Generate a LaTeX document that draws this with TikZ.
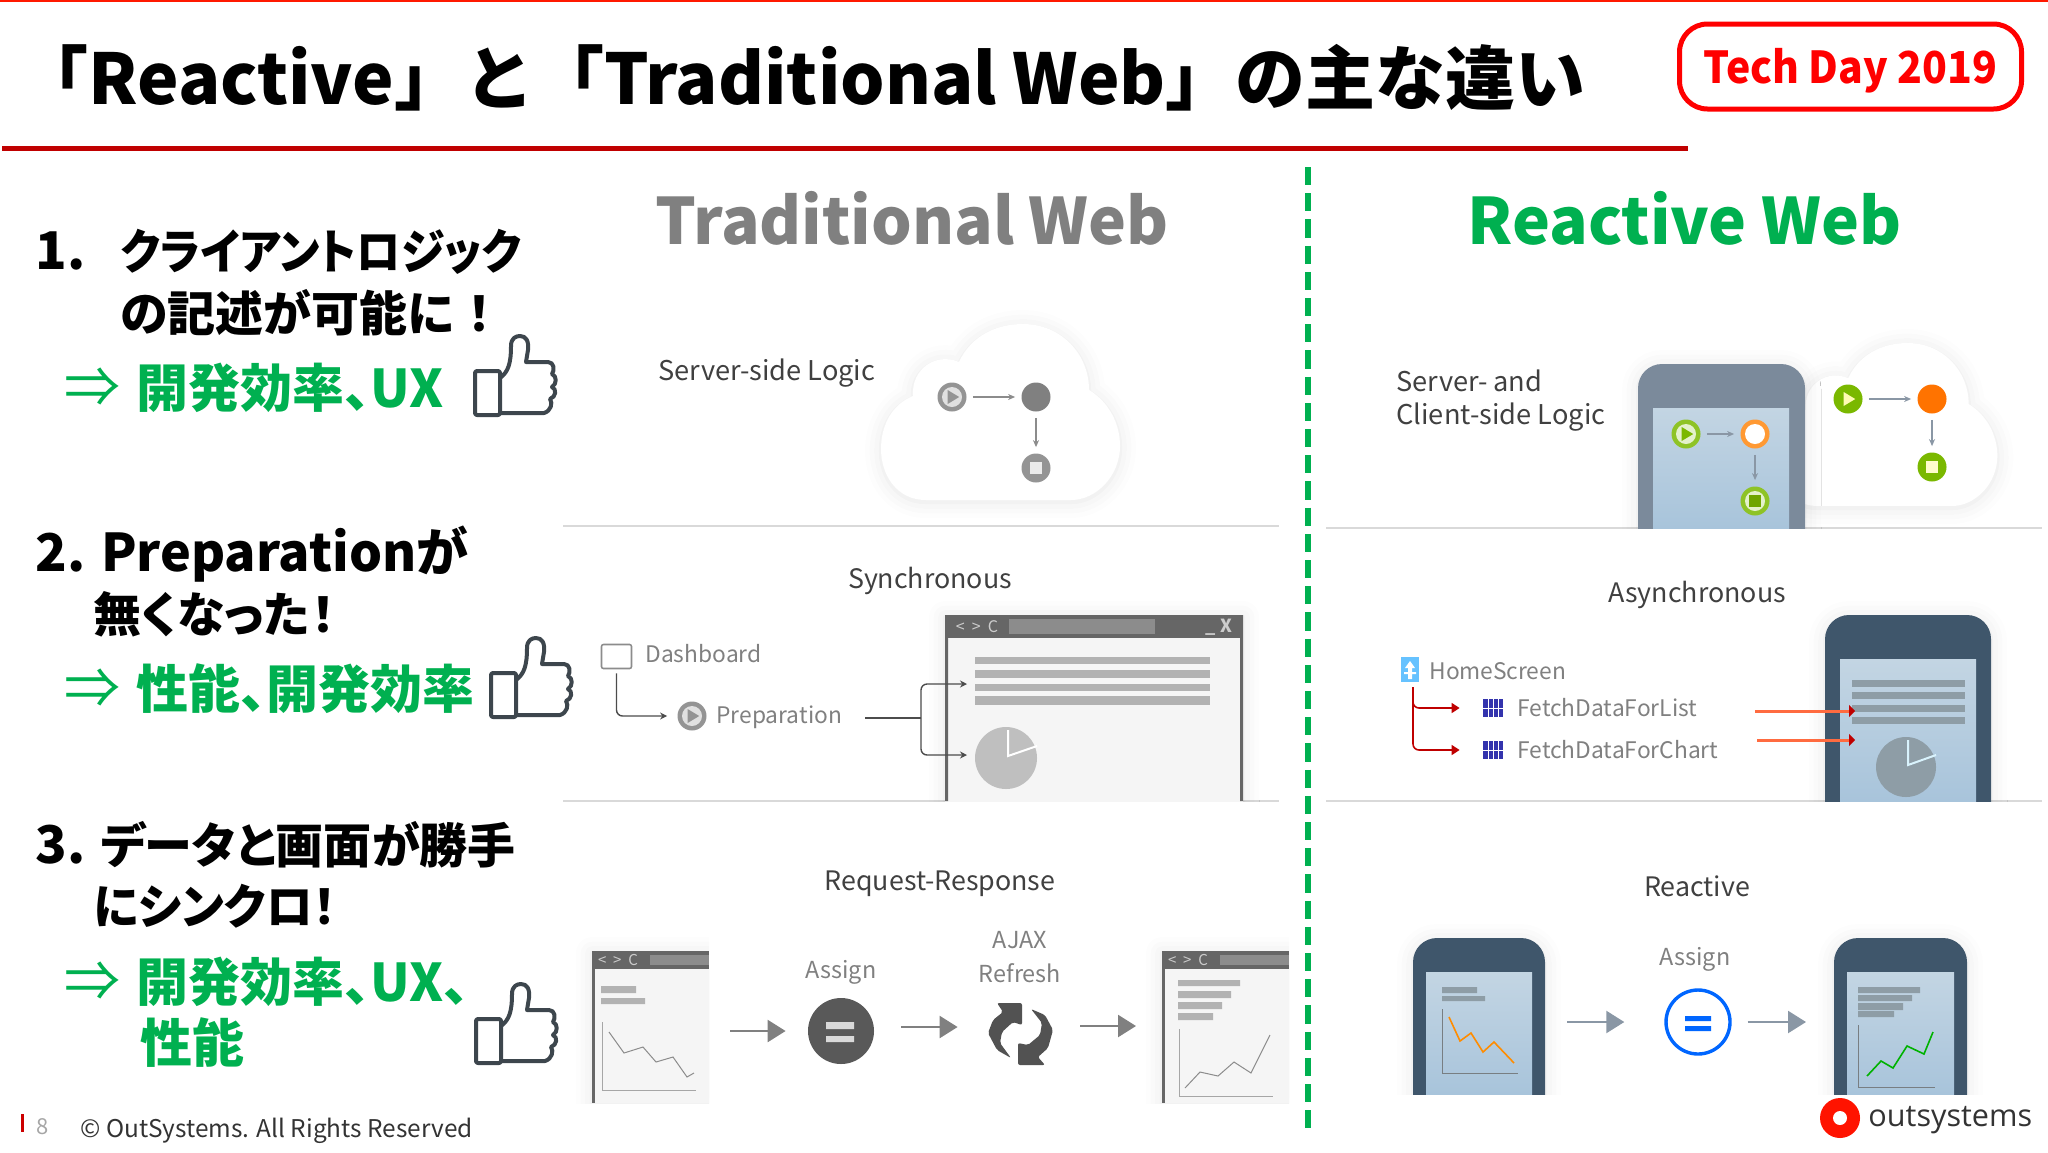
\documentclass[tikz,border=0pt]{standalone}
\usepackage{fontspec}
\setmainfont{Noto Sans CJK JP}
\newfontfamily\jpalt{Noto Sans CJK JP}[RawFeature=+palt]
\newfontfamily\logofont{Open Sans}
\usetikzlibrary{arrows.meta,shadows.blur}
\definecolor{osgreen}{HTML}{00B050}
\definecolor{osred}{HTML}{C00000}
\definecolor{phonedark}{HTML}{3F566B}
\definecolor{phonelight}{HTML}{7B8A9B}
\definecolor{leaf}{HTML}{7AB800}
\definecolor{thumbgray}{HTML}{3D464D}
\definecolor{arrowgray}{HTML}{8A97A5}
\definecolor{screentop}{HTML}{C3D5E3}
\definecolor{screenbottom}{HTML}{A8C4DB}
\definecolor{screenbar}{HTML}{8E9DA6}
\tikzset{
  every node/.style={inner sep=0pt},
  softshadow/.style={blur shadow={shadow xshift=0pt,shadow yshift=-1pt,shadow blur radius=8pt,shadow opacity=10}},
  titletext/.style={anchor=base west,font=\fontsize{35}{40}\selectfont\bfseries},
  headtext/.style={anchor=base west,font=\fontsize{32}{36}\selectfont\bfseries},
  steptext/.style={anchor=base west,font=\jpalt\fontsize{24}{28}\selectfont\bfseries},
  stepnum/.style={anchor=base west,font=\jpalt\fontsize{26}{28}\selectfont\bfseries},
  gaintext/.style={anchor=base west,text=osgreen,font=\jpalt\fontsize{26}{28}\selectfont\bfseries},
  gainarrow/.style={anchor=base west,text=osgreen,font=\fontsize{28}{30}\selectfont},
  labeltext/.style={anchor=base west,text=black!75,font=\fontsize{13.6}{16}\selectfont},
  graylabel/.style={anchor=base west,text=black!50,font=\fontsize{11.4}{14}\selectfont},
  rowlabel/.style={anchor=base,text=black!75,font=\fontsize{13.4}{16}\selectfont},
  iconlabel/.style={anchor=base,text=black!50,font=\fontsize{11.7}{15}\selectfont},
  startnode/.style n args={3}{circle,minimum size=14.5pt,fill=#1,path picture={
    \fill[#2] (path picture bounding box.center) circle (5pt);
    \fill[#3] ([shift={(-2.2pt,3.5pt)}]path picture bounding box.center) -- ++(5.8pt,-3.5pt) -- ++(-5.8pt,-3.5pt) -- cycle;}},
  stopnode/.style n args={3}{circle,minimum size=14.5pt,fill=#1,path picture={
    \fill[#2] (path picture bounding box.center) circle (5pt);
    \fill[#3] ([shift={(-3.2pt,-3.2pt)}]path picture bounding box.center) rectangle ++(6.4pt,6.4pt);}},
  flownode/.style={circle,minimum size=14.5pt,fill=#1},
  thinarrow/.style={-{Stealth[length=3.5pt,width=3pt]},draw=#1,line width=.7pt,shorten <=3pt,shorten >=3pt},
  thinarrow/.default=black!45,
  linkarrow/.style={-{Stealth[length=3.5pt,width=3.5pt]},draw=black!70,line width=.7pt,rounded corners=3pt},
  redarrow/.style={-{Triangle[length=4pt,width=5pt]},draw=red!75!black,line width=.8pt,rounded corners=3pt},
  farrow/.style={-{Triangle[length=3pt,width=6pt,color=red!75!black]},draw=red!55!orange!75,line width=1.5pt},
  bigarrow/.style={-{Triangle[length=9pt,width=11pt]},draw=#1,line width=1.2pt},
  griddata/.style={rectangle,minimum width=10pt,minimum height=9pt,fill=blue!60!black!80,path picture={
    \foreach \i in {-2.5,0,2.5} \draw[white,line width=.4pt] ([xshift=\i pt,yshift=-5pt]path picture bounding box.center) -- ++(0,10pt);
    \draw[white,line width=.4pt] ([shift={(-5pt,0pt)}]path picture bounding box.center) -- ++(10pt,0);}},
  thumbline/.style={draw=thumbgray,line width=2pt,line join=round},
  thumbup/.pic={
    \draw[thumbline,fill=white,rounded corners=1pt] (3,35) rectangle (28,79);
    \draw[thumbline] (28,42) .. controls (36,36) and (39,28) .. (39,10) .. controls (39,2) and (44,0) .. (48,0)
      .. controls (54,0) and (57,5) .. (56,14) -- (54,26) -- (76,26) .. controls (82,26) and (83,34) .. (80,38)
      .. controls (85,40) and (85,48) .. (80,51) .. controls (85,53) and (84,61) .. (78,63)
      .. controls (81,67) and (79,75) .. (72,77) -- (28,77);
  },
  cloudpic/.pic={
    \fill[white,softshadow] (45,176) .. controls (15,176) and (0,150) .. (0,125)
      .. controls (0,100) and (12,80) .. (32,72) .. controls (30,45) and (55,28) .. (78,38)
      .. controls (90,12) and (115,0) .. (142,0) .. controls (180,0) and (208,30) .. (208,66)
      .. controls (228,78) and (239,100) .. (239,122) .. controls (239,152) and (215,176) .. (190,176) -- cycle;
  },
  winpic/.pic={
    \clip (-40,-40) rectangle (#1,152);
    \fill[white!96!black,softshadow] (0,0) rectangle (#1+40,152);
    \fill[black!60] (0,0) rectangle (#1,18);
    \fill[black!60] (0,0) rectangle (3,152);
  }
}
\begin{document}
\begin{tikzpicture}[x=.5pt,y=-.5pt]
  \useasboundingbox (0,0) rectangle (2048,1152);
  \fill[red!80!orange] (0,0) rectangle (2048,2);
  \fill[osred] (2,145.5) rectangle (1688,150.5);

  % title and badge
  \node[titletext] (maintitle) at (18,104) {「Reactive」と「Traditional Web」の主な違い};
  \node[draw=red,line width=2.5pt,rounded corners=14pt,minimum width=171pt,minimum height=42.5pt] (badge) at (1850.5,66.5) {};
  \node[anchor=base,text=red,xscale=.93,font=\fontsize{22}{26}\selectfont\bfseries] (badgetext) at (badge.center |- 0,83) {Tech Day 2019};

  % left column
  \node[stepnum] (stepa) at (35,269) {1.};
  \node[steptext,xscale=.92] (stepatext) at (120,269) {クライアントロジック};
  \node[steptext] (stepaline) at (120,331) {の記述が可能に\hspace{7pt}！};
  \node[gainarrow] (gainaarrow) at (64,407) {⇒};
  \node[gaintext] (gaina) at (136,407) {開発効率、UX};
  \pic (thumba) at (472,336) {thumbup};

  \node[stepnum] (stepb) at (35,571) {2. Preparationが};
  \node[steptext] (stepbline) at (93,632) {無くなった\hspace{1pt}！};
  \node[gainarrow] (gainbarrow) at (64,708) {⇒};
  \node[gaintext] (gainb) at (136,708) {性能、開発効率};
  \pic (thumbb) at (488,638) {thumbup};

  \node[stepnum] (stepc) at (35,863) {3.};
  \node[steptext] (stepctext) at (100,863) {データと画面が勝手};
  \node[steptext,xscale=.97] (stepcline) at (93,924) {にシンクロ！};
  \node[gainarrow] (gaincarrow) at (64,1001) {⇒};
  \node[gaintext] (gainc) at (136,1001) {開発効率、UX、};
  \node[gaintext] (gaincline) at (140,1062) {性能};
  \pic (thumbc) at (473,984) {thumbup};

  % footer
  \fill[red!80!black] (21,1114) rectangle (24,1132);
  \node[anchor=base west,text=black!35,font=\fontsize{11}{13}\selectfont] (pagenum) at (36,1134) {8};
  \node[anchor=base west,text=black!80,font=\fontsize{12.2}{14}\selectfont] (copyright) at (80,1137) {© OutSystems. All Rights Reserved};
  \fill[red!85!orange] (1840,1118) circle (20) ;
  \node[circle,fill=white,minimum size=7pt] (logodot) at (1840,1118) {};
  \node[anchor=base west,text=black!80,font=\logofont\fontsize{15.3}{18}\selectfont] (logotext) at (1868,1126) {outsystems};

  % separators
  \draw[osgreen,line width=3pt,dash pattern=on 9.1pt off 4pt] (1308,167) -- (1308,1129);
  \foreach \xa/\xb/\yy in {563/1279/526,1326/2042/528,563/1279/801,1326/2042/801}
    \draw[black!15,line width=1pt] (\xa,\yy) -- (\xb,\yy);

  \node[headtext,text=black!50] (tradhead) at (655,244) {Traditional Web};
  \node[headtext,text=osgreen] (reacthead) at (1467,244) {Reactive Web};

  % logic row
  \node[labeltext] (serverlabel) at (658,380) {Server-side Logic};
  \pic at (881,324) {cloudpic};
  \node[startnode={black!42}{black!12}{black!42}] (srvstart) at (952,397) {};
  \node[flownode=black!50] (srvstep) at (1036,397) {};
  \node[stopnode={black!42}{black!42}{black!8}] (srvstop) at (1036,468) {};
  \foreach \from/\to in {srvstart/srvstep,srvstep/srvstop}
    \draw[thinarrow] (\from) -- (\to);

  \node[labeltext] (bothlabel) at (1396,391) {Server- and};
  \node[labeltext] (bothlabelb) at (1396,424) {Client-side Logic};
  \begin{scope}[shift={(1776,343)},x=.463pt,y=-.463pt]
    \pic at (0,0) {cloudpic};
  \end{scope}

  % phones: left/top/right/bottom/screen left/screen top/screen right/colour
  \foreach \l/\t/\r/\b/\sl/\st/\sr/\c in {1638/364/1805/528/1653/408/1789/phonelight,
      1825/615/1991/801/1840/659/1976/phonedark,
      1413/938/1545/1094/1426/972/1532/phonedark,
      1834/938/1967/1094/1847/972/1954/phonedark} {
    \begin{scope}
      \clip (\l-40,\t-40) rectangle (\r+40,\b);
      \fill[\c,softshadow,rounded corners=12pt] (\l,\b+40) -- (\l,\t) -- (\r,\t) -- (\r,\b+40) -- cycle;
      \shade[top color=screentop,bottom color=screenbottom] (\sl,\st) rectangle (\sr,\b);
    \end{scope}
  }

  \node[startnode={leaf!85}{white!80!leaf}{leaf}] (cltstart) at (1686,434) {};
  \node[stopnode={orange!80}{white}{white}] (cltstep) at (1755,434) {};
  \node[stopnode={leaf!85}{white!80!leaf}{leaf!90!black}] (cltstop) at (1755,501) {};
  \node[startnode={leaf}{leaf}{white!70!yellow}] (extstart) at (1848,399) {};
  \node[flownode=orange!90!red] (extstep) at (1932,399) {};
  \node[stopnode={leaf}{leaf}{white!80!yellow}] (extstop) at (1932,467) {};
  \foreach \from/\to in {cltstart/cltstep,cltstep/cltstop,extstart/extstep,extstep/extstop}
    \draw[thinarrow=arrowgray] (\from) -- (\to);

  % synchronous row
  \node[rowlabel] (synclabel) at (930,588) {Synchronous};
  \node[rectangle,draw=black!45,fill=white,line width=.8pt,rounded corners=1pt,minimum width=15pt,minimum height=12pt] (dashbox) at (616.5,656.5) {};
  \node[graylabel] (dashlabel) at (645,662) {Dashboard};
  \node[startnode={black!42}{black!12}{black!42}] (prepicon) at (692,716) {};
  \node[graylabel] (preplabel) at (716,723) {Preparation};
  \draw[linkarrow,shorten <=2pt,shorten >=5pt] (dashbox.south) |- (prepicon);

  \begin{scope}
    \clip (905,575) rectangle (1283,801);
    \fill[white!96!black,softshadow] (945,615) rectangle (1243,840);
  \end{scope}
  \fill[black!60] (945,615) rectangle (1243,638);
  \fill[black!60] (945,615) rectangle (948,801) (1240,615) rectangle (1243,801);
  \fill[black!45] (1009,619) rectangle (1155,634);
  \node[text=black!20,font=\fontsize{8}{9}\selectfont] (syncctl) at (977,627) {<\ \ >\ \ C};
  \node[text=black!20,font=\fontsize{9}{10}\selectfont\bfseries] (syncclose) at (1219,627) {\_ X};
  \foreach \ya/\yb in {657/664,670/678,684/691,696/705}
    \fill[black!30] (975,\ya) rectangle (1210,\yb);
  \fill[black!25] (1006,758) circle (31);
  \draw[white,line width=1pt] (1008,730) -- (1008,756) -- (1037,746);

  \coordinate (forktop) at (967,684);
  \coordinate (forkmid) at (921,718);
  \coordinate (forkbottom) at (967,755);
  \draw[black!70,line width=.7pt,shorten <=11.5pt] (preplabel.east |- forkmid) -- (forkmid);
  \draw[linkarrow] (forkmid) |- (forktop);
  \draw[linkarrow] (forkmid) |- (forkbottom);

  % asynchronous row
  \node[rowlabel] (asynclabel) at (1697,602) {Asynchronous};
  \node[rectangle,fill=blue!40!cyan!60!white,minimum width=9pt,minimum height=12.5pt] (homeicon) at (1410,669.5) {};
  \fill[white] (1410,661) -- (1415,668) -- (1405,668) -- cycle (1404,672) rectangle (1416,674) (1408,668) rectangle (1412,679);
  \node[graylabel] (homelabel) at (1429,679) {HomeScreen};
  \node[griddata] (griddlist) at (1493,708) {};
  \node[griddata] (griddchart) at (1493,750) {};
  \node[graylabel] (listlabel) at (1517,716) {FetchDataForList};
  \node[graylabel] (chartlabel) at (1517,758) {FetchDataForChart};
  \coordinate (treetop) at (1413,687);
  \foreach \to in {griddlist,griddchart}
    \draw[redarrow,shorten >=11.5pt] (treetop) |- (\to);
  \foreach \ya/\yb in {680/687,692/699,705/712,717/724}
    \fill[screenbar] (1852,\ya) rectangle (1965,\yb);
  \fill[screenbar] (1906,767) circle (30);
  \draw[white!85!cyan,line width=1pt] (1908,740) -- (1908,765) -- (1936,755);
  \coordinate (listout) at (1755,711);
  \coordinate (listin) at (1855,711);
  \coordinate (chartout) at (1757,740);
  \coordinate (chartin) at (1855,740);
  \draw[farrow] (listout) -- (listin);
  \draw[farrow] (chartout) -- (chartin);

  % request-response row
  \node[rowlabel] (reqlabel) at (940,890) {Request-Response};
  \pic at (592,951) {winpic=117};
  \pic at (1162,951) {winpic=127};
  \foreach \xx in {592,1162} {
    \fill[black!45] (\xx+58,955) rectangle (\xx+127,965);
    \node[text=black!20,font=\fontsize{7.5}{8}\selectfont] at (\xx+26,960) {<\ \ >\ \ C};
  }
  \fill[white] (709,951) rectangle (722,970);
  \fill[black!30] (601,986) rectangle (636,993) (601,998) rectangle (645,1004);
  \draw[black!35,line width=.5pt] (602,1022) -- (602,1090) -- (696,1090);
  \draw[black!45,line width=.5pt] (609,1032) -- (624,1053) -- (643,1047) -- (656,1062) -- (673,1057) -- (687,1077) -- (694,1073);
  \fill[black!30] (1178,980) rectangle (1240,986) (1178,991) rectangle (1231,998) (1178,1002) rectangle (1222,1009) (1178,1013) rectangle (1213,1020);
  \draw[black!35,line width=.5pt] (1179,1029) -- (1179,1096) -- (1273,1096);
  \draw[black!45,line width=.5pt] (1185,1088) -- (1200,1072) -- (1218,1076) -- (1234,1062) -- (1251,1073) -- (1270,1035);

  \node[iconlabel] (reqassignlabel) at (841,978) {Assign};
  \node[circle,minimum size=33pt,fill=black!65] (reqassign) at (841,1031) {};
  \fill[black!15] (826,1022) rectangle (854,1029) (826,1036) rectangle (854,1042);
  \node[iconlabel] (ajaxlabel) at (1020,948) {AJAX};
  \node[iconlabel] (refreshlabel) at (1020,982) {Refresh};
  \node[circle,minimum size=34pt] (reqrefresh) at (1020,1031) {};
  \fill[black!68,rounded corners=1pt] (997,1003) -- (1022,1003) -- (1022,1025) -- (1013,1022) -- (1002,1032) -- (1000,1043) -- (1011,1058) -- (997,1050) -- (988,1033) -- (993,1020) -- (1003,1012) -- cycle;
  \fill[black!68,rounded corners=1pt] (1045,1065) -- (1018,1065) -- (1018,1043) -- (1028,1045) -- (1040,1035) -- (1042,1023) -- (1031,1009) -- (1045,1015) -- (1053,1030) -- (1048,1048) -- (1038,1057) -- cycle;

  \coordinate (reqstart) at (730,1031);
  \coordinate (reqend) at (1136,1026);
  \draw[bigarrow=black!50,shorten >=11pt] (reqstart) -- (reqassign);
  \draw[bigarrow=black!50,shorten <=13.5pt,shorten >=14pt] ([yshift=2pt]reqassign.east) -- ([yshift=2pt]reqrefresh.west);
  \draw[bigarrow=black!50,shorten <=13pt] (reqrefresh.east |- reqend) -- (reqend);

  % reactive row
  \node[rowlabel] (reactlabel) at (1697,896) {Reactive};
  \node[iconlabel] (reactassignlabel) at (1695,965) {Assign};
  \node[circle,minimum size=32pt,fill=white,draw=blue!60!cyan,line width=1.7pt] (reactassign) at (1698,1022) {};
  \fill[blue!60!cyan] (1685,1016) rectangle (1711,1021) (1685,1026) rectangle (1711,1031);
  \coordinate (reactstart) at (1567,1022);
  \coordinate (reactend) at (1806,1022);
  \draw[bigarrow=arrowgray,shorten >=20pt] (reactstart) -- (reactassign);
  \draw[bigarrow=arrowgray,shorten <=8pt] (reactassign) -- (reactend);
  \fill[screenbar] (1442,987) rectangle (1477,993) (1442,996) rectangle (1485,1001);
  \draw[black!70!cyan!30!gray,line width=.5pt] (1442,1009) -- (1442,1073) -- (1518,1073);
  \draw[orange!90!yellow,line width=.8pt] (1449,1017) -- (1460,1041) -- (1471,1033) -- (1483,1052) -- (1494,1042) -- (1514,1063);
  \fill[screenbar] (1858,987) rectangle (1920,993) (1858,995) rectangle (1912,1001) (1858,1003) rectangle (1903,1010) (1858,1011) rectangle (1894,1017);
  \draw[black!70!cyan!30!gray,line width=.5pt] (1858,1025) -- (1858,1087) -- (1935,1087);
  \draw[green!70!black,line width=.8pt] (1867,1076) -- (1881,1061) -- (1893,1068) -- (1907,1046) -- (1924,1054) -- (1933,1032);
\end{tikzpicture}
\end{document}
